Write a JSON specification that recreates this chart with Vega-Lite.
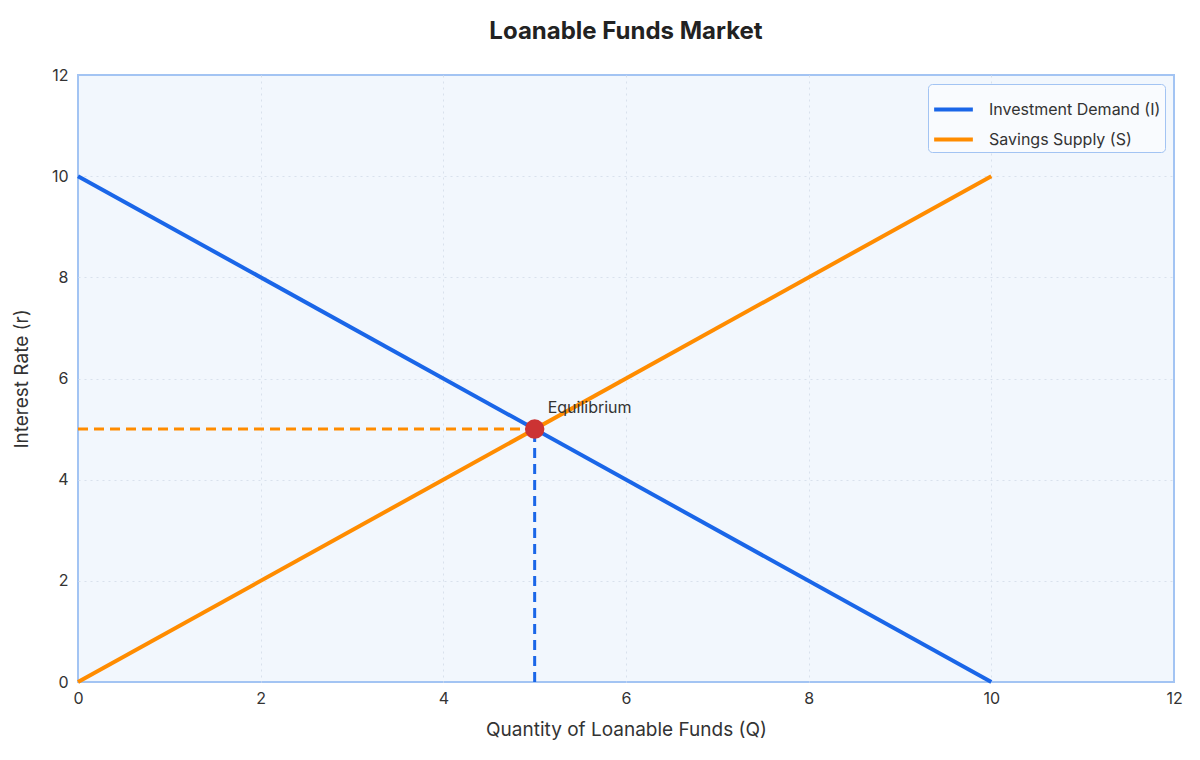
{
  "$schema": "https://vega.github.io/schema/vega-lite/v6.json",
  "width": 1096,
  "height": 607,
  "autosize": {"type": "none"},
  "padding": {"left": 78, "top": 75, "right": 26, "bottom": 78},
  "background": "white",
  "title": {
    "text": "Loanable Funds Market",
    "fontSize": 24,
    "fontWeight": "bold",
    "font": "Inter",
    "color": "#222222",
    "offset": 23
  },
  "config": {
    "font": "Inter",
    "view": {"fill": "#f2f7fd", "stroke": "#a3c4f3", "strokeWidth": 2},
    "axis": {
      "domain": false,
      "ticks": false,
      "labelFontSize": 16,
      "labelColor": "#333333",
      "titleFontSize": 19,
      "titleFontWeight": "normal",
      "titleColor": "#333333"
    }
  },
  "resolve": {"axis": {"x": "independent", "y": "independent"}},
  "datasets": {
    "curves": [
      {"q": 0, "r": 10, "series": "Investment Demand (I)"},
      {"q": 10, "r": 0, "series": "Investment Demand (I)"},
      {"q": 0, "r": 0, "series": "Savings Supply (S)"},
      {"q": 10, "r": 10, "series": "Savings Supply (S)"}
    ],
    "eq": [{"q": 5, "r": 5, "base": 0, "label": "Equilibrium"}]
  },
  "layer": [
    {
      "data": {"name": "eq"},
      "mark": {"type": "rule", "color": "#ff8c00", "strokeWidth": 3, "strokeDash": [10, 6]},
      "encoding": {
        "x": {
          "field": "base",
          "type": "quantitative",
          "scale": {"domain": [0, 12], "nice": false},
          "axis": {"orient": "bottom", "values": [2, 4, 6, 8, 10], "grid": true, "gridColor": "#d9e1ec", "gridDash": [2, 4], "labels": false, "title": null}
        },
        "x2": {"field": "q"},
        "y": {
          "field": "r",
          "type": "quantitative",
          "scale": {"domain": [0, 12], "nice": false},
          "axis": {"orient": "left", "values": [2, 4, 6, 8, 10], "grid": true, "gridColor": "#d9e1ec", "gridDash": [2, 4], "labels": false, "title": null}
        }
      }
    },
    {
      "data": {"name": "eq"},
      "mark": {"type": "rule", "color": "#1a66e8", "strokeWidth": 3, "strokeDash": [10, 6]},
      "encoding": {
        "x": {"field": "q", "type": "quantitative", "axis": null},
        "y": {"field": "base", "type": "quantitative", "axis": null},
        "y2": {"field": "r"}
      }
    },
    {
      "data": {"name": "curves"},
      "mark": {"type": "line", "strokeWidth": 4},
      "encoding": {
        "x": {
          "field": "q",
          "type": "quantitative",
          "scale": {"domain": [0, 12], "nice": false},
          "axis": {"orient": "bottom", "grid": false, "values": [0, 2, 4, 6, 8, 10, 12], "format": "d", "labelFlush": false, "labelPadding": 8, "titlePadding": 14},
          "title": "Quantity of Loanable Funds (Q)"
        },
        "y": {
          "field": "r",
          "type": "quantitative",
          "scale": {"domain": [0, 12], "nice": false},
          "axis": {"orient": "left", "grid": false, "values": [0, 2, 4, 6, 8, 10, 12], "format": "d", "labelFlush": false, "labelPadding": 10, "titlePadding": 20},
          "title": "Interest Rate (r)"
        },
        "color": {
          "field": "series",
          "type": "nominal",
          "scale": {
            "domain": ["Investment Demand (I)", "Savings Supply (S)"],
            "range": ["#1a66e8", "#ff8c00"]
          },
          "legend": {
            "title": null,
            "orient": "top-right",
            "offset": 9,
            "symbolType": "stroke",
            "symbolStrokeWidth": 4,
            "symbolSize": 1500,
            "labelFontSize": 16,
            "labelLimit": 400,
            "labelOffset": 14,
            "labelColor": "#333333",
            "rowPadding": -11,
            "padding": 4,
            "fillColor": "#f9fbfe",
            "strokeColor": "#a3c4f3",
            "cornerRadius": 4
          }
        }
      }
    },
    {
      "data": {"name": "eq"},
      "mark": {"type": "circle", "color": "#cc3333", "opacity": 1, "size": 380},
      "encoding": {
        "x": {"field": "q", "type": "quantitative", "axis": null},
        "y": {"field": "r", "type": "quantitative", "axis": null}
      }
    },
    {
      "data": {"name": "eq"},
      "mark": {"type": "text", "align": "left", "baseline": "alphabetic", "dx": 13, "dy": -16, "fontSize": 16, "color": "#333333"},
      "encoding": {
        "x": {"field": "q", "type": "quantitative", "axis": null},
        "y": {"field": "r", "type": "quantitative", "axis": null},
        "text": {"field": "label"}
      }
    }
  ]
}
